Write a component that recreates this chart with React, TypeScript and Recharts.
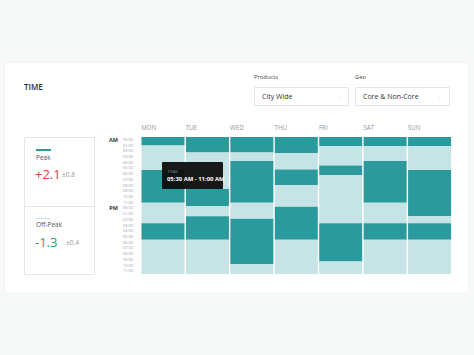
import React from 'react';
import { BarChart, Bar, XAxis, YAxis, Cell } from 'recharts';

// Day categories
const days = ['MON', 'TUE', 'WED', 'THU', 'FRI', 'SAT', 'SUN'];
// Segment end hours per day: dark, light, dark, light, dark, light (0 = 00:00 AM, 24 = end of day)
const monEnds = [1.5, 5.8, 11.5, 15.1, 18, 24];
const tueEnds = [2.7, 9.1, 12.1, 13.9, 18, 24];
const wedEnds = [2.7, 4.2, 11.5, 14.3, 22.3, 24];
const thuEnds = [2.8, 5.7, 8.4, 12.2, 18, 24];
const friEnds = [1.6, 5.0, 6.7, 15.1, 21.8, 24];
const satEnds = [1.6, 4.2, 11.5, 15.1, 18, 24];
const sunEnds = [1.6, 5.8, 13.9, 15.1, 18, 24];
const dayEnds = [monEnds, tueEnds, wedEnds, thuEnds, friEnds, satEnds, sunEnds];
// Hour tick labels
const hourLabels = ['00:00', '01:00', '02:00', '03:00', '04:00', '05:00', '06:00', '07:00', '08:00', '09:00', '10:00', '11:00'];
const hourTicks = [0.5, 1.5, 2.5, 3.5, 4.5, 5.5, 6.5, 7.5, 8.5, 9.5, 10.5, 11.5, 12.5, 13.5, 14.5, 15.5, 16.5, 17.5, 18.5, 19.5, 20.5, 21.5, 22.5, 23.5];
const segKeys = ['s0', 's1', 's2', 's3', 's4', 's5'];

const DARK = '#2a9a9d';
const LIGHT = '#c6e4e6';
const FONT = '"Open Sans", "DejaVu Sans", sans-serif';

const data = days.map((d, i) => {
  const row: any = { day: d };
  let prev = 0;
  dayEnds[i].forEach((e, k) => {
    row[segKeys[k]] = e - prev;
    prev = e;
  });
  return row;
});

const DayTick = (props: any) => {
  const { x, y, payload } = props;
  return (
    <text x={x - 22} y={y + 1} textAnchor="start" fontSize={6.2} fill="#8f969c" fontFamily={FONT}>
      {payload.value}
    </text>
  );
};

const HourTick = (props: any) => {
  const { x, y, payload } = props;
  const h = Math.floor(payload.value);
  return (
    <g>
      <text x={x} y={y} textAnchor="end" dominantBaseline="middle" fontSize={4} fill="#9aa3ad" fontFamily={FONT}>
        {hourLabels[h % 12]}
      </text>
      {(h === 0 || h === 12) && (
        <text x={x - 15} y={y + 0.5} textAnchor="end" dominantBaseline="middle" fontSize={5.5} fontWeight={700} fill="#333" fontFamily={FONT}>
          {h === 0 ? 'AM' : 'PM'}
        </text>
      )}
    </g>
  );
};

const abs = (s: React.CSSProperties): React.CSSProperties => ({ position: 'absolute', ...s });

export default function App() {
  return (
    <div style={abs({ left: 0, top: 0, width: 474, height: 355, background: '#f7f8f8', fontFamily: FONT, overflow: 'hidden' })}>
      <div style={abs({ left: 5, top: 63, width: 463, height: 229, background: '#fff', boxShadow: '0 0 2px rgba(0,0,0,0.06)' })} />
      <div style={abs({ left: 24, top: 82, fontSize: 8, lineHeight: '10px', color: '#2b2f33', fontWeight: 600 })}>TIME</div>

      <div style={abs({ left: 254, top: 74, fontSize: 5.8, lineHeight: '7px', color: '#444' })}>Products</div>
      <div style={abs({ left: 254, top: 87, width: 93, height: 17, border: '1px solid #e3e5e7', borderRadius: 1, background: '#fff' })}>
        <div style={abs({ left: 7, top: 4, fontSize: 7, lineHeight: '9px', color: '#333' })}>City Wide</div>
        <div style={abs({ left: 82, top: 4, fontSize: 4, lineHeight: '9px', color: '#bbb' })}>⌄</div>
      </div>
      <div style={abs({ left: 355, top: 74, fontSize: 5.8, lineHeight: '7px', color: '#444' })}>Geo</div>
      <div style={abs({ left: 355, top: 87, width: 93, height: 17, border: '1px solid #e3e5e7', borderRadius: 1, background: '#fff' })}>
        <div style={abs({ left: 7, top: 4, fontSize: 7, lineHeight: '9px', color: '#333' })}>Core &amp; Non-Core</div>
        <div style={abs({ left: 82, top: 4, fontSize: 4, lineHeight: '9px', color: '#bbb' })}>⌄</div>
      </div>

      <div style={abs({ left: 24, top: 137, width: 69, height: 136, border: '1px solid #e4e6e8' })}>
        <div style={abs({ left: 0, top: 68, width: 69, height: 1, background: '#e4e6e8' })} />
        <div style={abs({ left: 11, top: 11, width: 15, height: 2, background: DARK })} />
        <div style={abs({ left: 11, top: 16, fontSize: 6.5, lineHeight: '8px', color: '#555' })}>Peak</div>
        <div style={abs({ left: 10, top: 28, fontSize: 13, lineHeight: '16px', color: '#e03a3e' })}>+2.1</div>
        <div style={abs({ left: 37, top: 32, fontSize: 6.5, lineHeight: '9px', color: '#999' })}>±0.8</div>

        <div style={abs({ left: 11, top: 80, width: 15, height: 1, background: LIGHT })} />
        <div style={abs({ left: 11, top: 83, fontSize: 6.5, lineHeight: '8px', color: '#555' })}>Off-Peak</div>
        <div style={abs({ left: 10, top: 96, fontSize: 13, lineHeight: '16px', color: '#2b9e72' })}>-1.3</div>
        <div style={abs({ left: 41, top: 100, fontSize: 6.5, lineHeight: '9px', color: '#999' })}>±0.4</div>
      </div>

      <div style={abs({ left: 100, top: 115 })}>
        <BarChart width={360} height={170} data={data} margin={{ top: 0, right: 8, bottom: 11, left: 0 }} barCategoryGap={0.5}>
          <XAxis dataKey="day" orientation="top" height={22} axisLine={false} tickLine={false} tick={<DayTick />} interval={0} />
          <YAxis type="number" domain={[0, 24]} reversed allowDataOverflow ticks={hourTicks} interval={0} width={41} axisLine={false} tickLine={false} tick={<HourTick />} />
          {segKeys.map((k, i) => (
            <Bar key={k} dataKey={k} stackId="a" fill={i % 2 === 0 ? DARK : LIGHT} isAnimationActive={false}>
              {data.map((_, j) => (
                <Cell key={j} fill={i % 2 === 0 ? DARK : LIGHT} />
              ))}
            </Bar>
          ))}
        </BarChart>
      </div>

      <div style={abs({ left: 162, top: 162, width: 61, height: 27, background: 'rgba(12,12,12,0.94)', borderRadius: 1 })}>
        <div style={abs({ left: 6, top: 7, fontSize: 4, lineHeight: '5px', color: '#8a8a8a' })}>PEAK</div>
        <div style={abs({ left: 5, top: 14, fontSize: 5.9, lineHeight: '7px', color: '#fff', fontWeight: 700, whiteSpace: 'nowrap' })}>05:30 AM - 11:00 AM</div>
      </div>
    </div>
  );
}
